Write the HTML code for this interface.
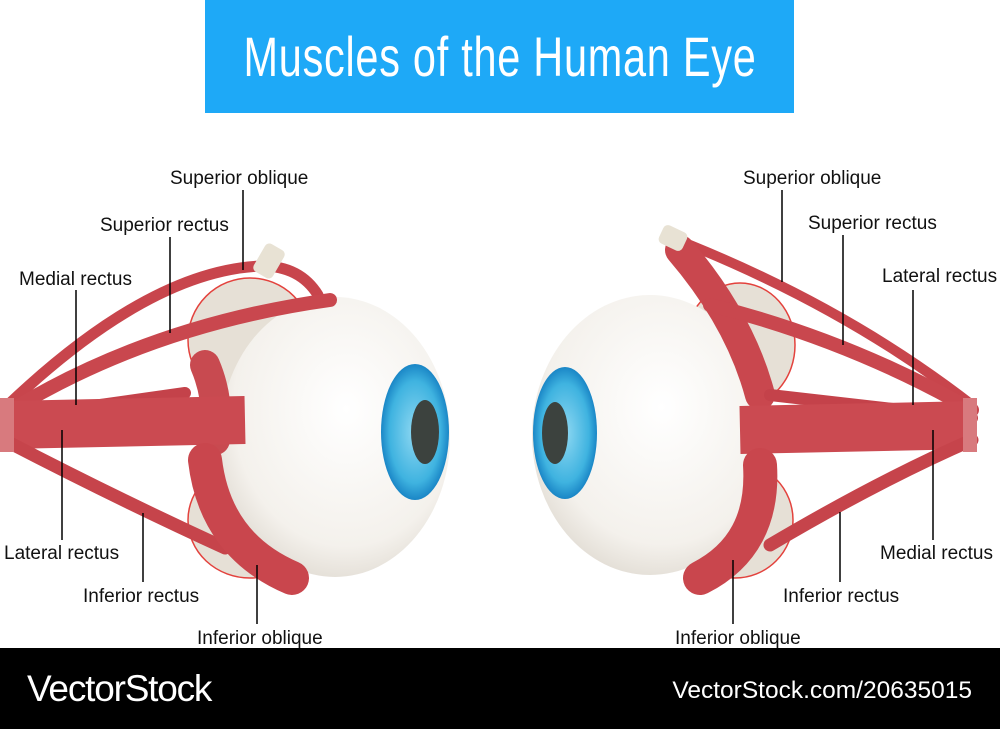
<!DOCTYPE html>
<html><head><meta charset="utf-8"><style>
html,body{margin:0;padding:0;background:#fff;}
body{width:1000px;height:729px;position:relative;overflow:hidden;font-family:"Liberation Sans",sans-serif;}
.title{position:absolute;left:205px;top:0;width:589px;height:113px;background:#1ea9f7;color:#fff;font-family:"Liberation Sans Narrow","Liberation Sans",sans-serif;font-size:56px;line-height:113px;letter-spacing:1px;white-space:nowrap;overflow:hidden;}
.title span{position:absolute;left:50%;top:0;transform:translateX(-50%) scaleX(0.74);}
.footer{position:absolute;left:0;top:648px;width:1000px;height:81px;background:#000;color:#fff;}
.footer .logo{position:absolute;left:27px;top:20px;font-size:37px;letter-spacing:-1.2px;}
.footer .url{position:absolute;right:28px;top:29px;font-size:24.5px;}
svg{position:absolute;left:0;top:0;}
</style></head><body>
<div class="title"><span>Muscles of the Human Eye</span></div>
<svg width="1000" height="729" viewBox="0 0 1000 729">
<defs>
<radialGradient id="globe" cx="0.55" cy="0.4" r="0.7">
<stop offset="0" stop-color="#ffffff"/><stop offset="0.7" stop-color="#f4f1ec"/><stop offset="1" stop-color="#d9d3c9"/></radialGradient>
<radialGradient id="iris" cx="0.5" cy="0.5" r="0.5">
<stop offset="0" stop-color="#8fd8f2"/><stop offset="0.75" stop-color="#3fb3e0"/><stop offset="1" stop-color="#1a86c6"/></radialGradient>
</defs>
<g fill="none" stroke-linecap="round">
<ellipse cx="250" cy="340" rx="62" ry="62" fill="#e6e0d6" stroke="#e3423d" stroke-width="1.5"/>
<ellipse cx="250" cy="520" rx="62" ry="58" fill="#e6e0d6" stroke="#e3423d" stroke-width="1.5"/>
<ellipse cx="335" cy="437" rx="115" ry="140" fill="url(#globe)"/>
<ellipse cx="415" cy="432" rx="34" ry="68" fill="url(#iris)"/>
<ellipse cx="425" cy="432" rx="14" ry="32" fill="#3c423e"/>
<path d="M8 405 Q150 270 262 266 Q300 266 318 295" stroke="#c8454c" stroke-width="11"/>
<rect x="258" y="245" width="22" height="32" rx="5" fill="#e8e2d4" transform="rotate(30 269 261)"/>
<path d="M8 412 Q150 325 330 300" stroke="#c9474e" stroke-width="14"/>
<path d="M8 418 L185 393" stroke="#c4424a" stroke-width="12"/>
<path d="M205 365 Q220 400 215 440" stroke="#c84a50" stroke-width="30"/>
<path d="M5 425 L245 420" stroke="#cb4a51" stroke-width="48" stroke-linecap="butt"/>
<path d="M8 442 Q120 500 225 548" stroke="#c6444b" stroke-width="13"/>
<path d="M205 460 Q215 545 292 578" stroke="#c9464d" stroke-width="34"/>
<rect x="0" y="398" width="14" height="54" fill="#d87a7e"/>
<ellipse cx="740" cy="345" rx="55" ry="62" fill="#e6e0d6" stroke="#e3423d" stroke-width="1.5"/>
<ellipse cx="735" cy="520" rx="58" ry="58" fill="#e6e0d6" stroke="#e3423d" stroke-width="1.5"/>
<ellipse cx="650" cy="435" rx="118" ry="140" fill="url(#globe)"/>
<ellipse cx="565" cy="433" rx="32" ry="66" fill="url(#iris)"/>
<ellipse cx="555" cy="433" rx="13" ry="31" fill="#3c423e"/>
<path d="M690 245 Q850 310 972 405" stroke="#c8454c" stroke-width="10"/>
<path d="M680 250 Q740 320 760 395" stroke="#c9474e" stroke-width="30"/>
<rect x="660" y="228" width="26" height="20" rx="5" fill="#e8e2d4" transform="rotate(25 673 238)"/>
<path d="M710 305 Q850 340 972 410" stroke="#c9474e" stroke-width="14"/>
<path d="M770 395 L972 418" stroke="#c4424a" stroke-width="12"/>
<path d="M740 430 L975 425" stroke="#cb4a51" stroke-width="48" stroke-linecap="butt"/>
<path d="M770 545 Q880 480 972 440" stroke="#c6444b" stroke-width="13"/>
<path d="M760 465 Q765 545 700 578" stroke="#c9464d" stroke-width="34"/>
<rect x="963" y="398" width="14" height="54" fill="#d87a7e"/>
</g>
<g stroke="#000" stroke-width="1.5">
<line x1="243" y1="190" x2="243" y2="270"/>
<line x1="170" y1="237" x2="170" y2="333"/>
<line x1="76" y1="290" x2="76" y2="405"/>
<line x1="62" y1="430" x2="62" y2="540"/>
<line x1="143" y1="513" x2="143" y2="582"/>
<line x1="257" y1="565" x2="257" y2="624"/>
<line x1="782" y1="190" x2="782" y2="282"/>
<line x1="843" y1="235" x2="843" y2="345"/>
<line x1="913" y1="290" x2="913" y2="405"/>
<line x1="933" y1="430" x2="933" y2="540"/>
<line x1="840" y1="512" x2="840" y2="582"/>
<line x1="733" y1="560" x2="733" y2="624"/>
</g>
<g font-family="Liberation Sans, sans-serif" font-size="19" fill="#111">
<text x="170" y="184">Superior oblique</text>
<text x="100" y="231">Superior rectus</text>
<text x="19" y="285">Medial rectus</text>
<text x="4" y="559">Lateral rectus</text>
<text x="83" y="602">Inferior rectus</text>
<text x="197" y="644">Inferior oblique</text>
<text x="743" y="184">Superior oblique</text>
<text x="808" y="229">Superior rectus</text>
<text x="882" y="282">Lateral rectus</text>
<text x="880" y="559">Medial rectus</text>
<text x="783" y="602">Inferior rectus</text>
<text x="675" y="644">Inferior oblique</text>
</g>
</svg>
<div class="footer"><div class="logo">VectorStock</div><div class="url">VectorStock.com/20635015</div></div>
</body></html>
